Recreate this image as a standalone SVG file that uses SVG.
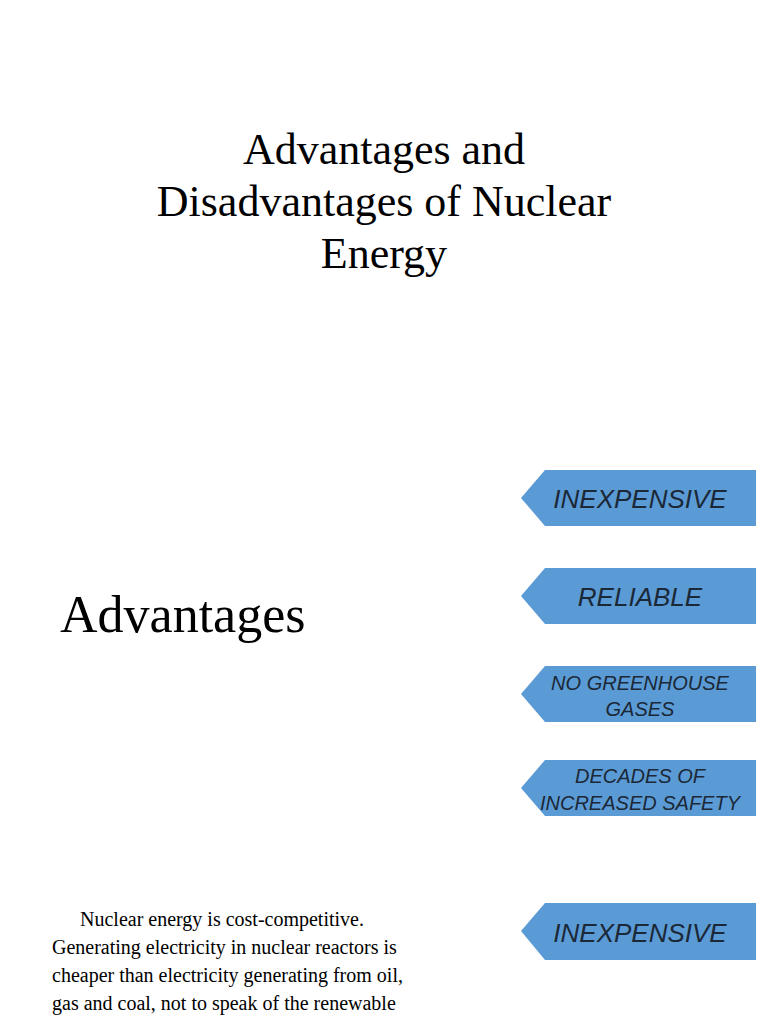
<svg xmlns="http://www.w3.org/2000/svg" width="768" height="1024" viewBox="0 0 768 1024">
<style>
.t{font-family:"Liberation Serif",serif;fill:#000}
.a{fill:#5b9bd5}
.l{font-family:"Liberation Sans",sans-serif;font-style:italic;fill:#1b2838;text-anchor:middle}
</style>
<rect width="768" height="1024" fill="#fff"/>
<g id="title"><text class="t" font-size="44" text-anchor="middle"><tspan x="384" y="164">Advantages and</tspan><tspan x="384" y="216">Disadvantages of Nuclear</tspan><tspan x="384" y="268">Energy</tspan></text></g>
<g id="adv"><text class="t" x="60" y="632" font-size="52">Advantages</text></g>
<g id="n1"><path class="a" d="M545 470H756V526H545L521 498Z"/><text class="l" x="640" y="508" font-size="26">INEXPENSIVE</text></g>
<g id="n2"><path class="a" d="M545 568H756V624H545L521 596Z"/><text class="l" x="640" y="606" font-size="26">RELIABLE</text></g>
<g id="n3"><path class="a" d="M545 666H756V722H545L521 694Z"/><text class="l" font-size="20"><tspan x="640" y="690">NO GREENHOUSE</tspan><tspan x="640" y="716">GASES</tspan></text></g>
<g id="n4"><path class="a" d="M545 760H756V816H545L521 788Z"/><text class="l" font-size="20"><tspan x="640" y="783">DECADES OF</tspan><tspan x="640" y="810">INCREASED SAFETY</tspan></text></g>
<g id="n5"><path class="a" d="M545 903H756V960H545L521 931Z"/><text class="l" x="640" y="942" font-size="26">INEXPENSIVE</text></g>
<g id="body"><text class="t" font-size="20"><tspan x="80" y="926">Nuclear energy is cost-competitive.</tspan><tspan x="52" y="954">Generating electricity in nuclear reactors is</tspan><tspan x="52" y="982">cheaper than electricity generating from oil,</tspan><tspan x="52" y="1010">gas and coal, not to speak of the renewable</tspan></text></g>
<g id="connectors"/>
</svg>
